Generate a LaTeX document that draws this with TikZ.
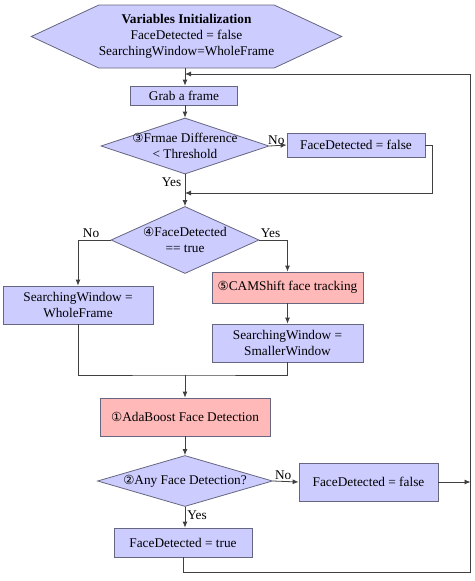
\documentclass[tikz,border=0pt]{standalone}
\usepackage{fontspec}
\setmainfont{Liberation Serif}
\newfontfamily\numfont{DejaVu Sans}
\usetikzlibrary{shapes.geometric,shapes.symbols,arrows.meta}

\definecolor{procblue}{HTML}{CCCCFF}
\definecolor{procpink}{HTML}{FFB9B9}
\definecolor{boxline}{HTML}{666680}
\definecolor{flowline}{HTML}{404040}
\newcommand{\cnum}[1]{{\numfont\fontsize{12.5}{14}\selectfont #1}}

\tikzset{
  proc/.style={rectangle,draw=boxline,fill=procblue,line width=0.8pt,
    align=center,inner sep=0pt},
  hot/.style={proc,fill=procpink},
  decision/.style={diamond,draw=boxline,fill=procblue,line width=0.8pt,
    inner sep=0pt,aspect=2},
  arr/.style={draw=flowline,line width=0.8pt,-{Latex[length=6pt,width=5pt]}},
  link/.style={draw=flowline,line width=0.8pt}
}

\begin{document}
\begin{tikzpicture}[x=1pt,y=-1pt,font=\fontsize{13.3}{16}\selectfont]
    \useasboundingbox (0,0) rectangle (474,581);

    % start block
    \node[signal,signal to=east and west,signal pointer angle=50,
          draw=boxline,fill=procblue,line width=0.8pt,inner sep=0pt,
          minimum width=213pt,minimum height=63pt,align=center]
          (init) at (186.5,36.5)
          {\textbf{Variables Initialization}\\FaceDetected = false\\SearchingWindow=WholeFrame};

    \node[proc,minimum width=107pt,minimum height=19pt] (grab) at (184,95.5) {Grab a frame};

    \node[decision,minimum width=168pt,minimum height=56pt,
          label={[align=center]center:\cnum{③}Frmae Difference\\< Threshold}]
          (diff) at (185,146) {};
    \node[proc,minimum width=138pt,minimum height=24pt] (fdfalseA) at (356,145) {FaceDetected = false};

    \node[decision,minimum width=148pt,minimum height=67pt,
          label={[align=center]center:\cnum{④}FaceDetected\\== true}]
          (found) at (185,240) {};

    \node[proc,minimum width=150pt,minimum height=38pt] (swwhole) at (78,305) {SearchingWindow =\\WholeFrame};
    \node[hot,minimum width=151pt,minimum height=31pt] (camshift) at (287.5,287.5) {\cnum{⑤}CAMShift face tracking};
    \node[proc,minimum width=151pt,minimum height=38pt] (swsmall) at (287.5,343) {SearchingWindow =\\SmallerWindow};

    \node[hot,minimum width=170pt,minimum height=38pt] (adaboost) at (185,417) {\cnum{①}AdaBoost Face Detection};

    \node[decision,minimum width=175pt,minimum height=51pt,
          label={center:\cnum{②}Any Face Detection?}]
          (anyface) at (185,481) {};
    \node[proc,minimum width=139pt,minimum height=38pt] (fdfalseB) at (368.5,482) {FaceDetected = false};
    \node[proc,minimum width=138pt,minimum height=29pt] (fdtrue) at (183,542.5) {FaceDetected = true};

    % joints of the connectors
    \coordinate (back) at (185,74);
    \coordinate (loopR) at (470.5,74);
    \coordinate (joinA) at (185,193);
    \coordinate (merge) at (185,375);

    % connectors
    \draw[arr] (init.south -| back) -- (grab.north -| back);
    \draw[arr] (grab.south -| back) -- (diff.north);
    \draw[arr] (diff.east) -- node[above,pos=0.4,inner sep=1pt] {No} (fdfalseA.west);
    \draw[arr] (fdfalseA.east) -- ++(7,0) |- (joinA);
    \draw[arr] (diff.south) -- node[left,pos=0.25] {Yes} (found.north);
    \draw[arr] (found.west) -| node[above,pos=0.3,inner sep=2pt] {No} (swwhole.north);
    \draw[arr] (found.east) -| node[above,pos=0.2,inner sep=2pt] {Yes} (camshift.north);
    \draw[arr] (camshift.south) -- (swsmall.north);
    \draw[link] (swwhole.south) |- (merge) -| (swsmall.south);
    \draw[arr] (merge) -- (adaboost.north);
    \draw[arr] (adaboost.south) -- (anyface.north);
    \draw[arr] (anyface.east) -- node[above,pos=0.4,inner sep=1pt] {No} (fdfalseB.west);
    \draw[arr] (fdfalseB.east) -- (fdfalseB.east -| loopR);
    \draw[arr] (anyface.south) -- node[right,pos=0.4,inner sep=2pt] {Yes} (anyface.south |- fdtrue.north);
    \draw[arr] (fdtrue.south) -- ++(0,15) -| (loopR) -- (back);
\end{tikzpicture}
\end{document}
